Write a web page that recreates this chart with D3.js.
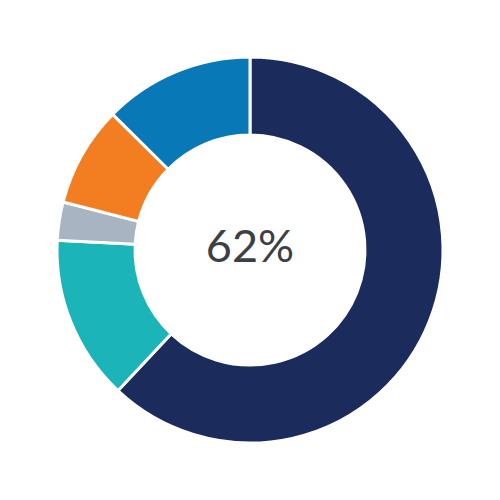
<!DOCTYPE html>
<html>
<head>
<meta charset="utf-8">
<script src="https://cdn.jsdelivr.net/npm/d3@7"></script>
<style>
  html, body { margin: 0; padding: 0; background: #fff; }
</style>
</head>
<body>
<div id="chart"></div>
<script>
// Slice shares, clockwise from 12 o'clock
var categories = ["A", "B", "C", "D", "E"];
var values = [62, 13.8, 3.2, 8.4, 12.6];
var colors = ["#1b2b5b", "#1bb4b8", "#a8b4c2", "#f37d21", "#0878b7"];
var centerLabel = "62%";

var width = 500, height = 500;
var outerR = 193, innerR = 115;

var svg = d3.select("#chart")
    .append("svg")
    .attr("width", width)
    .attr("height", height)
    .append("g")
    .attr("transform", "translate(" + 250 + "," + 250 + ")");

var pie = d3.pie()
    .sort(null)
    .value(function(d) { return d; });

var arc = d3.arc()
    .innerRadius(innerR)
    .outerRadius(outerR);

svg.selectAll("path")
    .data(pie(values))
    .enter()
    .append("path")
    .attr("d", arc)
    .attr("fill", function(d, i) { return colors[i]; })
    .attr("stroke", "#fff")
    .attr("stroke-width", 3);

// Center label
svg.append("text")
    .attr("text-anchor", "middle")
    .attr("y", 12)
    .attr("font-family", "Lato, sans-serif")
    .attr("font-weight", 400)
    .attr("font-size", "45px")
    .attr("fill", "#3b4048")
    .text(centerLabel);
</script>
</body>
</html>
